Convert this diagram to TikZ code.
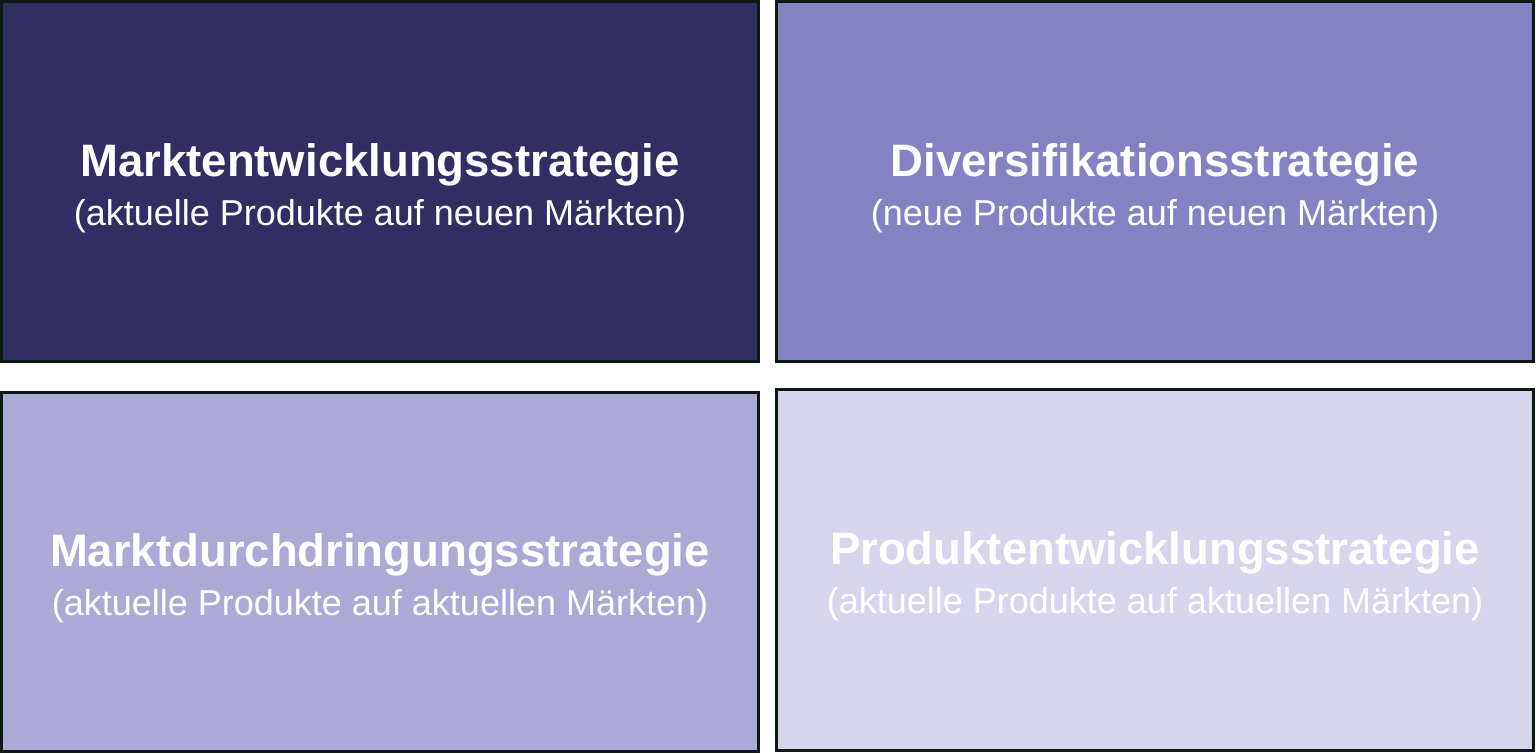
\documentclass[tikz,border=0pt]{standalone}
\usepackage{fontspec}
\setmainfont{Liberation Sans}
\usetikzlibrary{positioning}
\definecolor{rim}{HTML}{0B1A13}
\definecolor{fieldA}{HTML}{322E64}
\definecolor{fieldB}{HTML}{8482C2}
\definecolor{fieldC}{HTML}{ACA9D7}
\definecolor{fieldD}{HTML}{D7D5EB}
\newcommand{\strat}[2]{{\fontsize{45.5}{49}\selectfont\bfseries\rule{0pt}{46pt}#1}\\#2}
\tikzset{
  quadrant/.style={draw=rim,line width=3pt,text=white,align=center,
    minimum width=757pt,inner sep=0pt,outer sep=0pt,
    font=\fontsize{36}{49}\selectfont}
}
\begin{document}
\begin{tikzpicture}[x=1pt,y=-1pt]
  \useasboundingbox (0,0) rectangle (1536,754);
  \node[quadrant,fill=fieldA,minimum height=360pt] (entw) at (380,181.5)
    {\strat{Marktentwicklungsstrategie}{(aktuelle Produkte auf neuen Märkten)}};
  \node[quadrant,fill=fieldB,minimum height=360pt] (divers) at (1155,181.5)
    {\strat{Diversifikationsstrategie}{(neue Produkte auf neuen Märkten)}};
  \node[quadrant,fill=fieldC,minimum height=359pt] (durch) at (380,572)
    {\strat{Marktdurchdringungsstrategie}{(aktuelle Produkte auf aktuellen Märkten)}};
  \node[quadrant,fill=fieldD,minimum height=361pt] (prod) at (1155,570)
    {\strat{Produktentwicklungsstrategie}{(aktuelle Produkte auf aktuellen Märkten)}};
\end{tikzpicture}
\end{document}
